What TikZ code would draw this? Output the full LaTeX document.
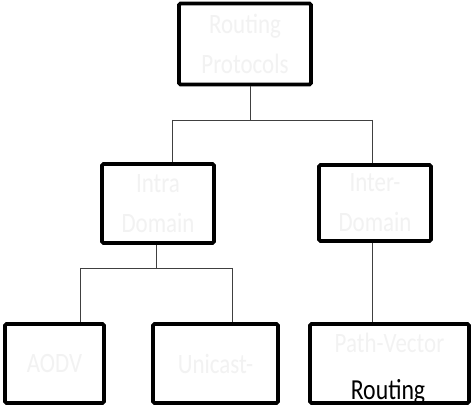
\documentclass[tikz,border=0pt]{standalone}
\usepackage{fontspec}
\setmainfont{Carlito}
\newfontfamily\tallfont[FakeStretch=0.82]{Carlito}
\begin{document}
\begin{tikzpicture}[x=1pt,y=1pt,
  box/.style={draw=black, line width=3.6pt, rounded corners=1.5pt, fill=white,
    inner sep=0pt, align=center, font=\tallfont\fontsize{28}{40}\selectfont, text=black!5},
  link/.style={draw=black!75, line width=0.9pt}]
\useasboundingbox (0,0) rectangle (474,409);
% boxes (centres in px, y flipped)
\node[box, minimum width=132pt, minimum height=81pt] (top) at (245,365) {Routing\\Protocols};
\node[box, minimum width=112pt, minimum height=79pt] (intra) at (158,205.5) {Intra\\Domain};
\node[box, minimum width=112pt, minimum height=76pt] (inter) at (375,206) {Inter-\\Domain};
\node[box, minimum width=99pt, minimum height=79pt] (aodv) at (54.5,45.5) {AODV};
\node[box, minimum width=125pt, minimum height=79pt] (uni) at (215.5,45.5) {Unicast-};
\node[font=\tallfont\fontsize{28}{40}\selectfont, text=black!5] (pvt) at (389.5,66) {Path-Vector};
\node[font=\tallfont\fontsize{29}{34}\selectfont, text=black, anchor=base] (pvr) at (388,9) {Routing};
\node[box, fill=none, minimum width=159pt, minimum height=79pt] (pv) at (389.5,45.5) {};
% connector coordinates
\coordinate (t0) at (250,323);
\coordinate (t1) at (250,289);
\coordinate (hl) at (172,289);
\coordinate (hr) at (372,289);
\coordinate (i0) at (156,164);
\coordinate (i1) at (156,141);
\coordinate (al) at (80,141);
\coordinate (ar) at (232,141);
\coordinate (e0) at (372,166);
% connectors
\draw[link] (t0) -- (t1);
\draw[link] (hl) -- (hr);
\draw[link] (hl) -- (hl |- intra.north);
\draw[link] (hr) -- (hr |- inter.north);
\draw[link] (i0) -- (i1);
\draw[link] (al) -- (ar);
\draw[link] (al) -- (al |- aodv.north);
\draw[link] (ar) -- (ar |- uni.north);
\draw[link] (e0) -- (e0 |- pv.north);
\end{tikzpicture}
\end{document}
